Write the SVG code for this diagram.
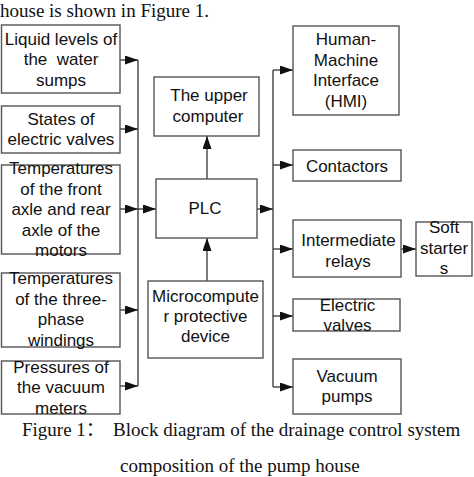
<svg xmlns="http://www.w3.org/2000/svg" width="474" height="477" viewBox="0 0 474 477">
<defs>
<marker id="ah" markerWidth="13" markerHeight="9" refX="13" refY="4.5" orient="auto" markerUnits="userSpaceOnUse">
<path d="M0,0 L13,4.5 L0,9 Z" fill="#111"/>
</marker>
<style>
.box{fill:#fff;stroke:#555;stroke-width:1.4}
.t{font-family:"Liberation Sans",Arial,sans-serif;font-size:17px;fill:#111;text-anchor:middle}
.c{font-family:"Liberation Serif","Noto Sans CJK SC","Times New Roman",serif;font-size:19px;fill:#111}
.ln{fill:none;stroke:#333;stroke-width:1.3}
.ar{fill:none;stroke:#333;stroke-width:1.3;marker-end:url(#ah)}
</style>
</defs>
<rect width="474" height="477" fill="#fff"/>
<text class="c" x="0" y="16.5">house is shown in Figure 1.</text>

<g id="connectors">
<line class="ar" x1="120" y1="60" x2="138" y2="60"/>
<line class="ar" x1="120" y1="129" x2="138" y2="129"/>
<line class="ar" x1="120" y1="209" x2="138" y2="209"/>
<line class="ar" x1="120" y1="310" x2="138" y2="310"/>
<line class="ar" x1="120" y1="386" x2="138" y2="386"/>
<line class="ln" x1="138" y1="60" x2="138" y2="386"/>
<line class="ar" x1="138" y1="209" x2="156" y2="209"/>
<line class="ar" x1="207" y1="179" x2="207" y2="136"/>
<line class="ar" x1="207" y1="281" x2="207" y2="238"/>
<line class="ar" x1="257" y1="209" x2="273" y2="209"/>
<line class="ln" x1="273" y1="70" x2="273" y2="387"/>
<line class="ar" x1="273" y1="70" x2="293" y2="70"/>
<line class="ar" x1="273" y1="165" x2="293" y2="165"/>
<line class="ar" x1="273" y1="249" x2="293" y2="249"/>
<line class="ar" x1="273" y1="316" x2="293" y2="316"/>
<line class="ar" x1="273" y1="387" x2="293" y2="387"/>
<line class="ar" x1="401" y1="249" x2="416" y2="249"/>
</g>

<g id="liquid">
<rect class="box" x="1.5" y="25" width="118.5" height="68"/>
<text class="t"><tspan x="61" y="44.5">Liquid levels of</tspan><tspan x="61" y="65" xml:space="preserve">the  water</tspan><tspan x="61" y="85.5">sumps</tspan></text>
</g>
<g id="states">
<rect class="box" x="1.5" y="106" width="118.5" height="47"/>
<text class="t"><tspan x="61" y="125">States of</tspan><tspan x="61" y="145">electric valves</tspan></text>
</g>
<g id="tempaxle">
<rect class="box" x="1.5" y="165" width="118.5" height="89"/>
<text class="t"><tspan x="61" y="174">Temperatures</tspan><tspan x="61" y="195">of the front</tspan><tspan x="61" y="215">axle and rear</tspan><tspan x="61" y="235.5">axle of the</tspan><tspan x="61" y="256">motors</tspan></text>
</g>
<g id="tempwind">
<rect class="box" x="1.5" y="273" width="118.5" height="74"/>
<text class="t"><tspan x="61" y="284">Temperatures</tspan><tspan x="61" y="305">of the three-</tspan><tspan x="61" y="325">phase</tspan><tspan x="61" y="345.5">windings</tspan></text>
</g>
<g id="pressures">
<rect class="box" x="1.5" y="361" width="118.5" height="53"/>
<text class="t"><tspan x="61" y="372.5">Pressures of</tspan><tspan x="61" y="393">the vacuum</tspan><tspan x="61" y="413.5">meters</tspan></text>
</g>

<g id="upper">
<rect class="box" x="154" y="77" width="105" height="59"/>
<text class="t"><tspan x="209" y="101">The upper</tspan><tspan x="208" y="121.5">computer</tspan></text>
</g>
<g id="plc">
<rect class="box" x="156" y="179" width="101" height="59"/>
<text class="t" x="205" y="214">PLC</text>
</g>
<g id="micro">
<rect class="box" x="148" y="281" width="115" height="77"/>
<text class="t"><tspan x="205.5" y="301.5">Microcompute</tspan><tspan x="205.5" y="322">r protective</tspan><tspan x="205.5" y="342">device</tspan></text>
</g>

<g id="hmi">
<rect class="box" x="293" y="26" width="106" height="89"/>
<text class="t"><tspan x="346" y="45">Human-</tspan><tspan x="346" y="65.5">Machine</tspan><tspan x="346" y="86">Interface</tspan><tspan x="346" y="107">(HMI)</tspan></text>
</g>
<g id="contactors">
<rect class="box" x="293" y="150" width="108" height="31"/>
<text class="t" x="347" y="171.5">Contactors</text>
</g>
<g id="relays">
<rect class="box" x="293" y="220" width="108" height="57"/>
<text class="t"><tspan x="348.5" y="246">Intermediate</tspan><tspan x="348" y="266.5">relays</tspan></text>
</g>
<g id="soft">
<rect class="box" x="416" y="222" width="56" height="54"/>
<text class="t"><tspan x="444" y="232.5">Soft</tspan><tspan x="444" y="253.5">starter</tspan><tspan x="444" y="274">s</tspan></text>
</g>
<g id="valves">
<rect class="box" x="293" y="299" width="107" height="32"/>
<text class="t"><tspan x="347.5" y="310.5">Electric</tspan><tspan x="347.5" y="330.5">valves</tspan></text>
</g>
<g id="pumps">
<rect class="box" x="293" y="359" width="108" height="55"/>
<text class="t"><tspan x="347" y="381.5">Vacuum</tspan><tspan x="347" y="402">pumps</tspan></text>
</g>

<text class="c" y="436"><tspan x="22">Figure 1：</tspan><tspan x="113">Block diagram of the drainage control system</tspan></text>
<text class="c" x="120" y="472">composition of the pump house</text>
</svg>
